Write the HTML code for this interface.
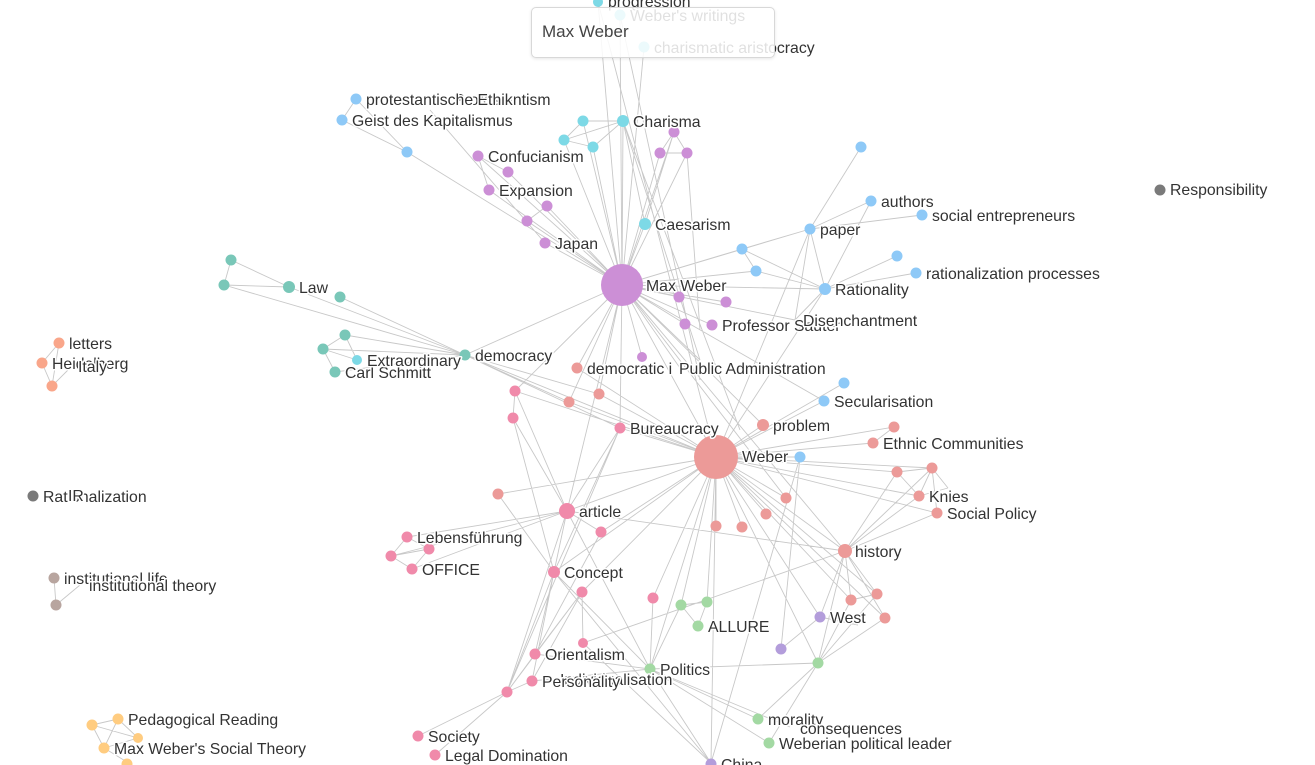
<!DOCTYPE html>
<html><head><meta charset="utf-8"><style>
html,body{margin:0;padding:0;background:#fff;}
svg{display:block;}
text{font-family:"Liberation Sans",sans-serif;font-size:15.8px;fill:#333;paint-order:stroke;stroke:#fff;stroke-width:3px;stroke-linejoin:round;}
.tt{position:absolute;left:531px;top:7px;width:244px;height:51px;background:rgba(255,255,255,0.85);border:1px solid #d8d8d8;border-radius:5px;box-shadow:0 1px 3px rgba(0,0,0,0.1);font-family:"Liberation Sans",sans-serif;font-size:17px;color:#444;box-sizing:border-box;padding:14px 0 0 10px;}
</style></head><body>
<svg width="1315" height="765" viewBox="0 0 1315 765">
<g stroke="#c8c8c8" stroke-width="0.9" fill="none">
<path d="
M622 285L623 121 M622 285L598 2 M622 285L620 15 M622 285L644 47 M622 285L583 121 M622 285L593 147 M622 285L564 140
M622 285L478 156 M622 285L508 172 M622 285L489 190 M622 285L547 206 M622 285L527 221 M622 285L545 243 M622 285L407 152
M622 285L645 224 M622 285L660 153 M622 285L674 132 M622 285L687 153 M622 285L810 229 M622 285L742 249 M622 285L756 271
M622 285L825 289 M622 285L679 297 M622 285L726 302 M622 285L685 324 M622 285L712 325 M622 285L465 355 M622 285L716 457
M622 285L577 368 M622 285L620 428 M622 285L680 368 M622 285L763 425 M622 285L599 394 M622 285L569 402 M622 285L795 320
M622 285L824 401 M622 285L567 511 M622 285L642 357 M622 285L845 551 M622 285L786 498 M622 285L515 391 M622 285L700 360
M623 121L645 224 M623 121L700 360 M623 121L740 430 M598 2L716 457 M620 15L700 380
M716 457L763 425 M716 457L620 428 M716 457L873 443 M716 457L894 427 M716 457L897 472 M716 457L932 468 M716 457L919 496
M716 457L937 513 M716 457L786 498 M716 457L766 514 M716 457L716 526 M716 457L742 527 M716 457L845 551 M716 457L851 600
M716 457L877 594 M716 457L885 618 M716 457L567 511 M716 457L601 532 M716 457L653 598 M716 457L554 572 M716 457L650 669
M716 457L681 605 M716 457L707 602 M716 457L711 763 M716 457L818 663 M716 457L820 617 M716 457L800 457 M716 457L498 494
M716 457L577 368 M716 457L569 402 M716 457L515 391 M716 457L599 394 M716 457L825 289 M716 457L810 229 M716 457L824 401
M716 457L465 355 M716 457L844 383 M716 457L582 592
M623 121L583 121 M583 121L564 140 M564 140L593 147 M623 121L564 140 M623 121L593 147
M674 132L660 153 M674 132L687 153 M660 153L687 153 M674 132L645 224 M687 153L700 330
M478 156L508 172 M478 156L489 190 M356 99L342 120 M356 99L407 152 M342 120L407 152 M547 206L527 221 M430 110L545 243
M231 260L224 285 M224 285L289 287 M231 260L289 287 M289 287L465 355 M340 297L465 355 M224 285L465 355
M345 335L323 349 M323 349L335 372 M345 335L357 360 M323 349L357 360 M323 349L465 355 M345 335L465 355 M335 372L465 355
M465 355L569 402 M465 355L599 394 M465 355L620 428 M465 355L716 457
M59 343L42 363 M42 363L52 386 M59 343L52 386 M52 386L70 368
M810 229L871 201 M810 229L861 147 M810 229L922 215 M810 229L825 289 M810 229L742 249 M825 289L897 256 M825 289L916 273
M825 289L871 201 M825 289L756 271 M825 289L795 320 M825 289L742 249 M742 249L756 271 M810 229L795 320
M873 443L894 427 M897 472L932 468 M932 468L919 496 M897 472L919 496 M919 496L948 488 M932 468L937 513 M932 468L948 488
M845 551L919 496 M845 551L937 513 M845 551L897 472 M845 551L851 600 M845 551L877 594 M845 551L885 618 M845 551L820 617
M845 551L818 663 M845 551L567 511 M845 551L583 643 M845 551L932 468
M818 663L851 600 M818 663L877 594 M818 663L885 618 M818 663L650 669 M818 663L769 743 M820 617L781 649 M781 649L800 457 M820 617L858 625 M851 600L877 594
M818 663L758 719 M800 457L711 763
M567 511L407 537 M567 511L412 569 M567 511L391 556 M407 537L429 549 M407 537L391 556 M391 556L412 569 M429 549L412 569 M391 556L429 549
M567 511L515 391 M567 511L513 418 M567 511L554 572 M567 511L601 532 M567 511L650 669 M567 511L620 428 M567 511L507 692
M554 572L535 654 M554 572L532 681 M554 572L507 692 M554 572L650 669 M582 592L583 643 M582 592L507 692 M582 592L535 654 M582 592L532 681
M554 572L513 418 M498 494L554 572 M515 391L513 418 M601 532L535 654 M620 428L554 572 M653 598L650 669 M620 428L507 692
M507 692L418 736 M507 692L435 755 M507 692L532 681 M507 692L535 654
M650 669L758 719 M650 669L769 743 M650 669L790 727 M650 669L711 763 M650 669L681 605 M681 605L707 602 M707 602L698 626 M681 605L698 626
M535 654L650 669 M532 681L650 669 M554 572L711 763 M583 643L711 763
M54 578L56 605 M56 605L80 585
M92 725L118 719 M92 725L104 748 M118 719L138 738 M104 748L138 738 M104 748L127 762 M92 725L138 738 M118 719L104 748
"/>
</g>
<g>
<circle cx="622" cy="285" r="21" fill="#cc8fd6"/>
<circle cx="716" cy="457" r="22" fill="#ec9a98"/>
<g fill="#7dd9e6">
<circle cx="598" cy="2" r="5"/><circle cx="623" cy="121" r="6"/><circle cx="583" cy="121" r="5.5"/><circle cx="564" cy="140" r="5.5"/><circle cx="593" cy="147" r="5.5"/><circle cx="645" cy="224" r="6"/>
<circle cx="465" cy="355" r="5.5" fill="#79c7b8"/><circle cx="357" cy="360" r="5" />
</g>
<g fill="#8ec9f7">
<circle cx="356" cy="99" r="5.5"/><circle cx="342" cy="120" r="5.5"/><circle cx="407" cy="152" r="5.5"/><circle cx="861" cy="147" r="5.5"/><circle cx="871" cy="201" r="5.5"/><circle cx="922" cy="215" r="5.5"/>
<circle cx="810" cy="229" r="5.5"/><circle cx="742" cy="249" r="5.5"/><circle cx="756" cy="271" r="5.5"/><circle cx="897" cy="256" r="5.5"/><circle cx="916" cy="273" r="5.5"/><circle cx="825" cy="289" r="6"/>
<circle cx="824" cy="401" r="5.5"/><circle cx="844" cy="383" r="5.5"/><circle cx="800" cy="457" r="5.5"/>
</g>
<g fill="#cc8fd6">
<circle cx="478" cy="156" r="5.5"/><circle cx="508" cy="172" r="5.5"/><circle cx="489" cy="190" r="5.5"/><circle cx="547" cy="206" r="5.5"/><circle cx="527" cy="221" r="5.5"/><circle cx="545" cy="243" r="5.5"/>
<circle cx="674" cy="132" r="5.5"/><circle cx="660" cy="153" r="5.5"/><circle cx="687" cy="153" r="5.5"/><circle cx="679" cy="297" r="5.5"/><circle cx="726" cy="302" r="5.5"/><circle cx="685" cy="324" r="5.5"/><circle cx="712" cy="325" r="5.5"/><circle cx="642" cy="357" r="5"/>
</g>
<g fill="#79c7b8">
<circle cx="231" cy="260" r="5.5"/><circle cx="224" cy="285" r="5.5"/><circle cx="289" cy="287" r="6"/><circle cx="340" cy="297" r="5.5"/><circle cx="345" cy="335" r="5.5"/><circle cx="323" cy="349" r="5.5"/><circle cx="335" cy="372" r="5.5"/>
</g>
<g fill="#f9a68a">
<circle cx="59" cy="343" r="5.5"/><circle cx="42" cy="363" r="5.5"/><circle cx="52" cy="386" r="5.5"/>
</g>
<g fill="#ec9a98">
<circle cx="577" cy="368" r="5.5"/><circle cx="569" cy="402" r="5.5"/><circle cx="599" cy="394" r="5.5"/><circle cx="763" cy="425" r="6"/><circle cx="873" cy="443" r="5.5"/><circle cx="894" cy="427" r="5.5"/>
<circle cx="897" cy="472" r="5.5"/><circle cx="932" cy="468" r="5.5"/><circle cx="919" cy="496" r="5.5"/><circle cx="937" cy="513" r="5.5"/><circle cx="786" cy="498" r="5.5"/><circle cx="766" cy="514" r="5.5"/>
<circle cx="716" cy="526" r="5.5"/><circle cx="742" cy="527" r="5.5"/><circle cx="845" cy="551" r="7"/><circle cx="851" cy="600" r="5.5"/><circle cx="877" cy="594" r="5.5"/><circle cx="885" cy="618" r="5.5"/><circle cx="498" cy="494" r="5.5"/>
</g>
<g fill="#f08aaa">
<circle cx="515" cy="391" r="5.5"/><circle cx="513" cy="418" r="5.5"/>
<circle cx="620" cy="428" r="5.5"/><circle cx="567" cy="511" r="8"/><circle cx="407" cy="537" r="5.5"/><circle cx="429" cy="549" r="5.5"/><circle cx="391" cy="556" r="5.5"/><circle cx="412" cy="569" r="5.5"/>
<circle cx="601" cy="532" r="5.5"/><circle cx="554" cy="572" r="6"/><circle cx="582" cy="592" r="5.5"/><circle cx="653" cy="598" r="5.5"/><circle cx="583" cy="643" r="5"/><circle cx="535" cy="654" r="5.5"/>
<circle cx="532" cy="681" r="5.5"/><circle cx="507" cy="692" r="5.5"/><circle cx="418" cy="736" r="5.5"/><circle cx="435" cy="755" r="5.5"/>
</g>
<g fill="#a3d9a3">
<circle cx="681" cy="605" r="5.5"/><circle cx="707" cy="602" r="5.5"/><circle cx="698" cy="626" r="5.5"/><circle cx="650" cy="669" r="5.5"/><circle cx="818" cy="663" r="5.5"/><circle cx="758" cy="719" r="5.5"/><circle cx="769" cy="743" r="5.5"/>
</g>
<g fill="#b39ddb">
<circle cx="820" cy="617" r="5.5"/><circle cx="781" cy="649" r="5.5"/><circle cx="711" cy="764" r="5.5"/>
</g>
<circle cx="1160" cy="190" r="5.5" fill="#7a7a7a"/><circle cx="33" cy="496" r="5.5" fill="#7a7a7a"/>
<circle cx="54" cy="578" r="5.5" fill="#b8a59f"/><circle cx="56" cy="605" r="5.5" fill="#b8a59f"/>
<g fill="#ffcc80">
<circle cx="92" cy="725" r="5.5"/><circle cx="118" cy="719" r="5.5"/><circle cx="104" cy="748" r="5.5"/><circle cx="138" cy="738" r="5"/><circle cx="127" cy="764" r="5.5"/>
</g>
</g>
<g>
<text x="608" y="7">progression</text>
<text x="454" y="105">Protestantism</text>
<text x="366" y="105">protestantische Ethik</text>
<text x="352" y="126">Geist des Kapitalismus</text>
<text x="633" y="127">Charisma</text>
<text x="488" y="162">Confucianism</text>
<text x="499" y="196">Expansion</text>
<text x="655" y="230">Caesarism</text>
<text x="555" y="249">Japan</text>
<text x="881" y="207">authors</text>
<text x="932" y="221">social entrepreneurs</text>
<text x="820" y="235">paper</text>
<text x="926" y="279">rationalization processes</text>
<text x="646" y="291">Max Weber</text>
<text x="835" y="295">Rationality</text>
<text x="299" y="293">Law</text>
<text x="722" y="331">Professor Sauter</text>
<text x="803" y="326">Disenchantment</text>
<text x="69" y="349">letters</text>
<text x="52" y="369">Heidelberg</text>
<text x="78" y="372">Italy</text>
<text x="345" y="378">Carl Schmitt</text>
<text x="367" y="366">Extraordinary</text>
<text x="475" y="361">democracy</text>
<text x="587" y="374">democratic i</text>
<text x="679" y="374">Public Administration</text>
<text x="834" y="407">Secularisation</text>
<text x="630" y="434">Bureaucracy</text>
<text x="773" y="431">problem</text>
<text x="883" y="449">Ethnic Communities</text>
<text x="742" y="462">Weber</text>
<text x="1170" y="195">Responsibility</text>
<text x="43" y="502">Rationalization</text>
<text x="68" y="501">IR</text>
<text x="929" y="502">Knies</text>
<text x="947" y="519">Social Policy</text>
<text x="579" y="517">article</text>
<text x="417" y="543">Lebensführung</text>
<text x="422" y="575">OFFICE</text>
<text x="564" y="578">Concept</text>
<text x="855" y="557">history</text>
<text x="64" y="584">institutional life</text>
<text x="89" y="591">institutional theory</text>
<text x="830" y="623">West</text>
<text x="708" y="632">ALLURE</text>
<text x="545" y="660">Orientalism</text>
<text x="560" y="685">Individualisation</text>
<text x="660" y="675">Politics</text>
<text x="542" y="687">Personality</text>
<text x="128" y="725">Pedagogical Reading</text>
<text x="114" y="754">Max Weber's Social Theory</text>
<text x="768" y="725">morality</text>
<text x="800" y="734">consequences</text>
<text x="779" y="749">Weberian political leader</text>
<text x="428" y="742">Society</text>
<text x="445" y="761">Legal Domination</text>
<text x="721" y="770">China</text>
<circle cx="620" cy="15" r="5.5" fill="#7dd9e6"/><text x="630" y="21">Weber's writings</text>
<circle cx="644" cy="47" r="5.5" fill="#7dd9e6"/><text x="654" y="53">charismatic aristocracy</text>
</g>
</svg>
<div class="tt">Max Weber</div>
</body></html>
